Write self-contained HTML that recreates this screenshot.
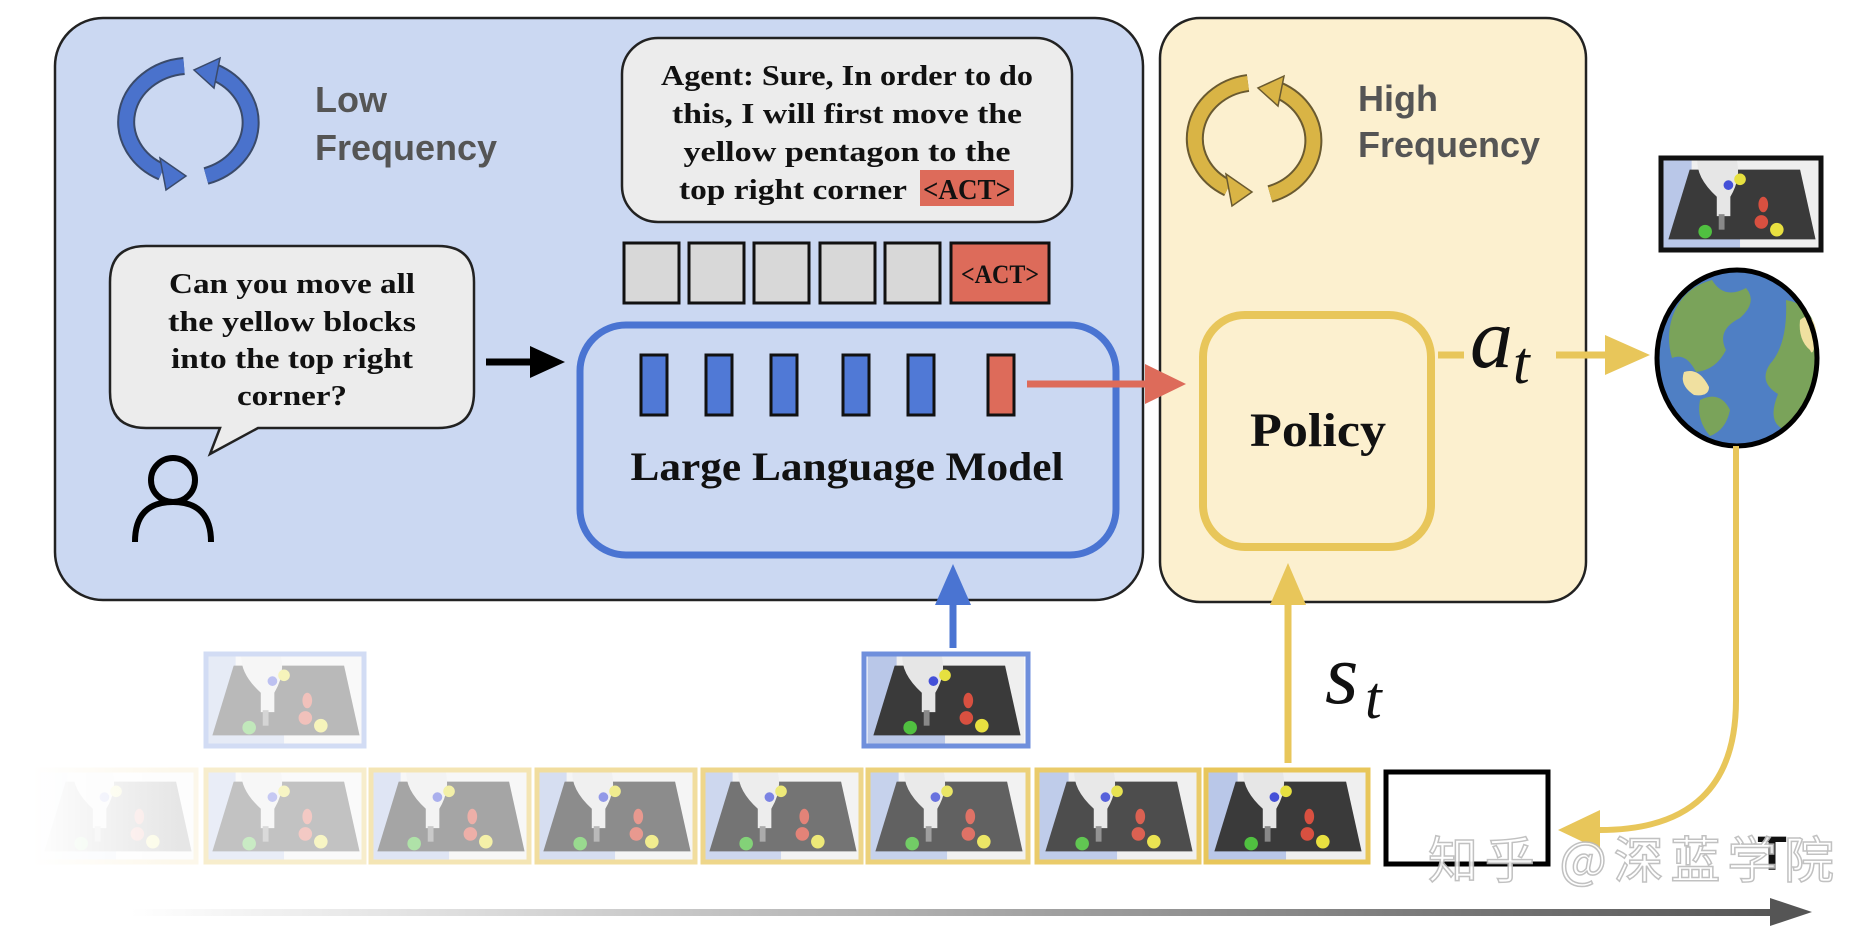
<!DOCTYPE html>
<html><head><meta charset="utf-8"><style>
html,body{margin:0;padding:0;background:#fff;}
svg{display:block;}
.b{font-family:"Liberation Serif","DejaVu Serif",serif;font-weight:bold;}
.s{font-family:"Liberation Sans","DejaVu Sans",sans-serif;font-weight:bold;}
</style></head><body>
<svg width="1872" height="932" viewBox="0 0 1872 932" xmlns="http://www.w3.org/2000/svg">
<defs>
<symbol id="th" viewBox="0 0 162 95">
<rect x="0" y="0" width="162" height="95" fill="#efefef"/>
<rect x="0" y="0" width="30" height="95" fill="#b9c7e8"/>
<rect x="0" y="82" width="80" height="13" fill="#b9c7e8"/>
<polygon points="28,12 142,12 158,84 6,84" fill="#3a3a3a"/>
<path d="M36,0 h40 q6,20 -6,40 v20 h-14 v-20 q-22,-20 -20,-40z" fill="#e6e6e6"/>
<rect x="58" y="58" width="6" height="16" fill="#888"/>
<circle cx="68" cy="28" r="5" fill="#4450d8"/>
<circle cx="80" cy="22" r="6" fill="#e6e040"/>
<ellipse cx="104" cy="48" rx="5" ry="8" fill="#d85040"/>
<circle cx="102" cy="66" r="7" fill="#d85040"/>
<circle cx="118" cy="74" r="7" fill="#e8e040"/>
<circle cx="44" cy="76" r="7" fill="#50c040"/>
</symbol>
<linearGradient id="ag" x1="0" x2="1"><stop offset="0" stop-color="#fff"/><stop offset="0.5" stop-color="#aaa"/><stop offset="1" stop-color="#555"/></linearGradient>
<linearGradient id="fade" x1="0" x2="1"><stop offset="0" stop-color="#fff" stop-opacity="1"/><stop offset="1" stop-color="#fff" stop-opacity="0"/></linearGradient>
</defs>

<rect x="55" y="18" width="1088" height="582" rx="48" fill="#cbd8f2" stroke="#222" stroke-width="2.5"/>
<rect x="1160" y="18" width="426" height="584" rx="40" fill="#fcf0cf" stroke="#222" stroke-width="2.5"/>

<!-- low freq icon -->
<g fill="none" stroke-linecap="butt">
<path d="M184,66 A64,56 0 0 0 162,172" stroke="#3a4a6a" stroke-width="18"/>
<path d="M184,66 A64,56 0 0 0 162,172" stroke="#4a72cc" stroke-width="14"/>
<path d="M206,176 A64,56 0 0 0 214,72" stroke="#3a4a6a" stroke-width="18"/>
<path d="M206,176 A64,56 0 0 0 214,72" stroke="#4a72cc" stroke-width="14"/>
</g>
<polygon points="160,158 186,176 166,190" fill="#4a72cc" stroke="#3a4a6a" stroke-width="1.5"/>
<polygon points="220,58 194,70 214,88" fill="#4a72cc" stroke="#3a4a6a" stroke-width="1.5"/>
<text x="315" y="112" class="s" font-size="36" fill="#555">Low</text>
<text x="315" y="160" class="s" font-size="36" fill="#555">Frequency</text>

<!-- high freq icon -->
<g fill="none">
<path d="M1248,83 A62,56 0 0 0 1228,188" stroke="#6a5a30" stroke-width="18"/>
<path d="M1248,83 A62,56 0 0 0 1228,188" stroke="#d9b445" stroke-width="14"/>
<path d="M1270,194 A62,56 0 0 0 1278,90" stroke="#6a5a30" stroke-width="18"/>
<path d="M1270,194 A62,56 0 0 0 1278,90" stroke="#d9b445" stroke-width="14"/>
</g>
<polygon points="1226,174 1252,192 1232,206" fill="#d9b445" stroke="#6a5a30" stroke-width="1.5"/>
<polygon points="1284,76 1258,88 1278,106" fill="#d9b445" stroke="#6a5a30" stroke-width="1.5"/>
<text x="1358" y="111" class="s" font-size="36" fill="#555">High</text>
<text x="1358" y="157" class="s" font-size="36" fill="#555">Frequency</text>

<!-- agent bubble -->
<rect x="622" y="38" width="450" height="184" rx="36" fill="#ececec" stroke="#222" stroke-width="2.5"/>
<rect x="920" y="170" width="94" height="36" fill="#dd6b5a"/>
<g class="b" font-size="29" fill="#111" text-anchor="middle">
<text x="847" y="85" textLength="372" lengthAdjust="spacingAndGlyphs">Agent: Sure, In order to do</text>
<text x="847" y="123" textLength="350" lengthAdjust="spacingAndGlyphs">this, I will first move the</text>
<text x="847" y="161" textLength="327" lengthAdjust="spacingAndGlyphs">yellow pentagon to the</text>
<text x="793" y="199" textLength="228" lengthAdjust="spacingAndGlyphs">top right corner</text>
<text x="967" y="199" textLength="88" lengthAdjust="spacingAndGlyphs">&lt;ACT&gt;</text>
</g>

<g stroke="#111" stroke-width="3" fill="#d8d8d8">
<rect x="624" y="243" width="55" height="60"/>
<rect x="689" y="243" width="55" height="60"/>
<rect x="754" y="243" width="55" height="60"/>
<rect x="820" y="243" width="55" height="60"/>
<rect x="885" y="243" width="55" height="60"/>
<rect x="951" y="243" width="98" height="60" fill="#dd6b5a"/>
</g>
<text x="1000" y="283" class="b" font-size="26" fill="#111" text-anchor="middle" textLength="78" lengthAdjust="spacingAndGlyphs">&lt;ACT&gt;</text>

<!-- user bubble -->
<path d="M146,246 h292 q36,0 36,36 v110 q0,36 -36,36 h-180 l-48,26 l10,-26 h-74 q-36,0 -36,-36 v-110 q0,-36 36,-36z" fill="#ececec" stroke="#222" stroke-width="2.5"/>
<g class="b" font-size="29" fill="#111" text-anchor="middle">
<text x="292" y="293" textLength="246" lengthAdjust="spacingAndGlyphs">Can you move all</text>
<text x="292" y="331" textLength="248" lengthAdjust="spacingAndGlyphs">the yellow blocks</text>
<text x="292" y="368" textLength="242" lengthAdjust="spacingAndGlyphs">into the top right</text>
<text x="292" y="405" textLength="110" lengthAdjust="spacingAndGlyphs">corner?</text>
</g>
<circle cx="173" cy="480" r="22" fill="none" stroke="#000" stroke-width="6"/>
<path d="M135,542 q0,-40 38,-40 q38,0 38,40" fill="none" stroke="#000" stroke-width="6"/>

<line x1="486" y1="362" x2="535" y2="362" stroke="#000" stroke-width="7"/>
<polygon points="530,346 565,362 530,378" fill="#000"/>

<rect x="580" y="325" width="536" height="230" rx="46" fill="none" stroke="#4a74d2" stroke-width="7"/>
<g stroke="#111" stroke-width="3" fill="#5079d6">
<rect x="641" y="355" width="26" height="60"/>
<rect x="706" y="355" width="26" height="60"/>
<rect x="771" y="355" width="26" height="60"/>
<rect x="843" y="355" width="26" height="60"/>
<rect x="908" y="355" width="26" height="60"/>
<rect x="988" y="355" width="26" height="60" fill="#dd6b5a"/>
</g>
<text x="847" y="480" class="b" font-size="40" fill="#111" text-anchor="middle" textLength="433" lengthAdjust="spacingAndGlyphs">Large Language Model</text>

<line x1="1027" y1="384" x2="1150" y2="384" stroke="#dd6b5a" stroke-width="7"/>
<polygon points="1145,364 1186,384 1145,404" fill="#dd6b5a"/>

<rect x="1203" y="315" width="228" height="232" rx="42" fill="none" stroke="#e8c65a" stroke-width="8"/>
<text x="1318" y="446" class="b" font-size="48" fill="#111" text-anchor="middle" textLength="136" lengthAdjust="spacingAndGlyphs">Policy</text>

<line x1="1438" y1="355" x2="1464" y2="355" stroke="#e8c65a" stroke-width="7"/>
<text x="1470" y="367" font-family="Liberation Serif,serif" font-style="italic" font-size="86" fill="#111">a</text>
<text x="1513" y="383" font-family="Liberation Serif,serif" font-style="italic" font-size="60" fill="#111">t</text>
<line x1="1556" y1="355" x2="1610" y2="355" stroke="#e8c65a" stroke-width="7"/>
<polygon points="1605,335 1650,355 1605,375" fill="#e8c65a"/>

<!-- earth -->
<ellipse cx="1737" cy="358" rx="80" ry="88" fill="#4f7fc4"/>
<path d="M1672,318 q10,-30 40,-38 q12,20 34,8 q12,14 -6,30 q-24,12 -14,32 q-10,20 -30,22 q-10,-20 -24,-14 q-6,-20 0,-40z" fill="#7aa35a"/>
<path d="M1786,300 q24,4 30,30 l0,40 q-8,36 -30,60 q-20,-6 -8,-36 q-20,-12 -8,-30 q18,-20 16,-64z" fill="#7aa35a"/>
<path d="M1700,400 q20,-10 30,10 q-4,20 -20,26 q-14,-16 -10,-36z" fill="#7aa35a"/>
<path d="M1800,320 q12,-10 16,10 q-2,30 -6,20 q-12,-10 -10,-30z" fill="#f0e0a0"/>
<path d="M1684,372 q15,-5 25,15 q0,10 -15,8 q-15,-10 -10,-23z" fill="#f0e0a0"/>
<ellipse cx="1737" cy="358" rx="80" ry="88" fill="none" stroke="#000" stroke-width="5"/>

<use href="#th" x="1661" y="158" width="160" height="92"/>
<rect x="1661" y="158" width="160" height="92" fill="none" stroke="#111" stroke-width="5"/>

<path d="M1736,446 V700 Q1736,830 1600,830" fill="none" stroke="#e8c65a" stroke-width="6"/>
<polygon points="1600,810 1558,830 1600,850" fill="#e8c65a"/>

<line x1="953" y1="648" x2="953" y2="600" stroke="#4a74d2" stroke-width="7"/>
<polygon points="935,605 953,564 971,605" fill="#4a74d2"/>

<line x1="1288" y1="763" x2="1288" y2="600" stroke="#e8c65a" stroke-width="7"/>
<polygon points="1270,605 1288,563 1306,605" fill="#e8c65a"/>
<text x="1325" y="703" font-family="Liberation Serif,serif" font-style="italic" font-size="86" fill="#111">s</text>
<text x="1365" y="718" font-family="Liberation Serif,serif" font-style="italic" font-size="60" fill="#111">t</text>

<g opacity="0.35"><use href="#th" x="206" y="654" width="158" height="92"/><rect x="206" y="654" width="158" height="92" fill="none" stroke="#7f9ee0" stroke-width="5"/></g>
<use href="#th" x="864" y="654" width="164" height="92"/>
<rect x="864" y="654" width="164" height="92" fill="none" stroke="#6f8fdc" stroke-width="5"/>

<g opacity="0.12"><use href="#th" x="38" y="770" width="158" height="92"/><rect x="38" y="770" width="158" height="92" fill="none" stroke="#e8c65a" stroke-width="5"/></g>
<g opacity="0.3"><use href="#th" x="206" y="770" width="158" height="92"/><rect x="206" y="770" width="158" height="92" fill="none" stroke="#e8c65a" stroke-width="5"/></g>
<g opacity="0.45"><use href="#th" x="371" y="770" width="158" height="92"/><rect x="371" y="770" width="158" height="92" fill="none" stroke="#e8c65a" stroke-width="5"/></g>
<g opacity="0.58"><use href="#th" x="537" y="770" width="158" height="92"/><rect x="537" y="770" width="158" height="92" fill="none" stroke="#e8c65a" stroke-width="5"/></g>
<g opacity="0.7"><use href="#th" x="703" y="770" width="158" height="92"/><rect x="703" y="770" width="158" height="92" fill="none" stroke="#e8c65a" stroke-width="5"/></g>
<g opacity="0.8"><use href="#th" x="868" y="770" width="160" height="92"/><rect x="868" y="770" width="160" height="92" fill="none" stroke="#e8c65a" stroke-width="5"/></g>
<g opacity="0.9"><use href="#th" x="1037" y="770" width="162" height="92"/><rect x="1037" y="770" width="162" height="92" fill="none" stroke="#e8c65a" stroke-width="5"/></g>
<use href="#th" x="1206" y="770" width="162" height="92"/>
<rect x="1206" y="770" width="162" height="92" fill="none" stroke="#e8c65a" stroke-width="5"/>
<rect x="1386" y="772" width="162" height="92" fill="#fff" stroke="#000" stroke-width="5"/>
<rect x="30" y="760" width="150" height="110" fill="url(#fade)"/>

<text x="1772" y="870" class="s" font-size="48" fill="#111" text-anchor="middle">T</text>

<text x="1428" y="878" font-family="'Noto Sans CJK SC','WenQuanYi Zen Hei',sans-serif" font-size="50" fill="#fff" stroke="#bbb" stroke-width="1.5" opacity="0.9" textLength="406">知乎 @深蓝学院</text>

<rect x="130" y="909" width="1660" height="7" fill="url(#ag)"/>
<polygon points="1770,898 1812,912 1770,926" fill="#555"/>
</svg>
</body></html>
